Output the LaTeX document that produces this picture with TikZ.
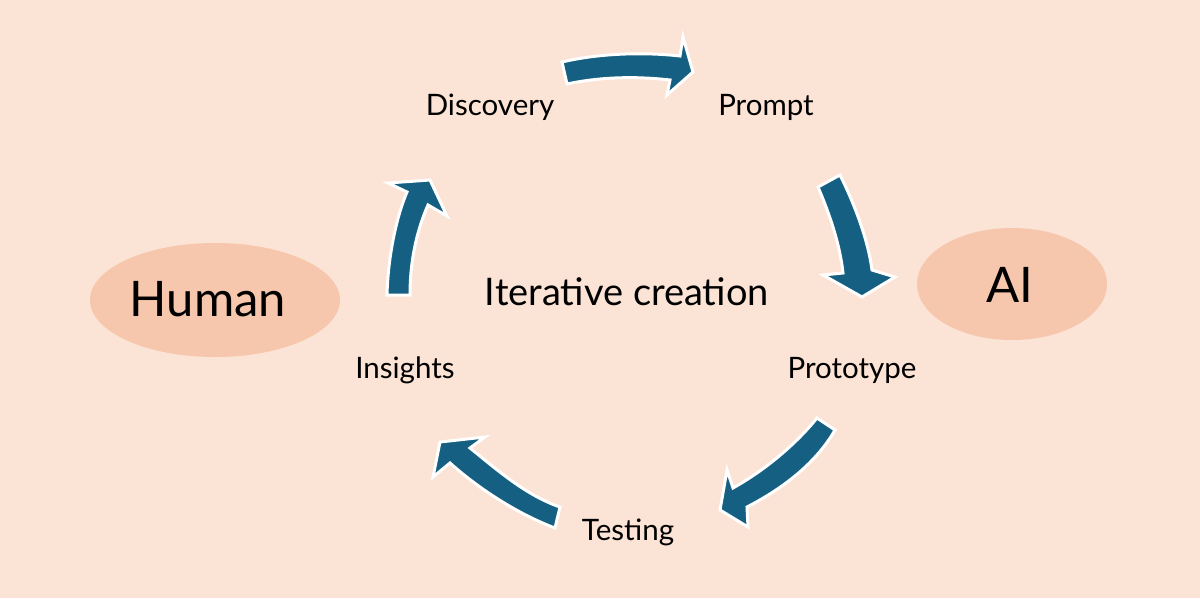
\documentclass[tikz,border=0pt]{standalone}
\usepackage{fontspec}
\setmainfont{Lato}
\usetikzlibrary{shapes.geometric}
\definecolor{bg}{HTML}{FBE3D6}
\definecolor{ellfill}{HTML}{F6C6AD}
\definecolor{arrblue}{HTML}{156082}
\begin{document}
\begin{tikzpicture}[x=1pt,y=-1pt,
  lbl/.style={font=\fontsize{29.5}{34}\selectfont, text=black, inner sep=0pt, anchor=base},
  bigtxt/.style={font=\fontsize{49}{56}\selectfont, text=black, inner sep=0pt, anchor=base},
  actor/.style={ellipse, fill=ellfill, inner sep=0pt},
  blockarrow/.style={fill=arrblue, draw=white, line width=3pt, line join=miter}]
\fill[bg] (0,0) rectangle (1200,598);
\useasboundingbox (0,0) rectangle (1200,598);
% actors
\node[actor, minimum width=250pt, minimum height=114pt] (human) at (215,300) {};
\node[bigtxt] (humantxt) at (208,316) {Human};
\node[actor, minimum width=190pt, minimum height=112pt] (ai) at (1012,284) {};
\node[bigtxt] (aitxt) at (1010,302) {AI};
% labels
\node[lbl] (disc) at (490,115) {Discovery};
\node[lbl] (prompt) at (766,115) {Prompt};
\node[lbl] (proto) at (852,378) {Prototype};
\node[lbl] (test) at (628,540) {Testing};
\node[lbl] (ins) at (405,378) {Insights};
\node[font=\fontsize{38}{44}\selectfont, inner sep=0pt, anchor=base] (center) at (627,305) {Iterative creation};
% block arrows
\path[blockarrow] (562,62) .. controls (600,53) and (645,52) .. (680,56) -- (683,37) -- (693,72) -- (667,95) -- (670,80) .. controls (635,76) and (600,77) .. (567,84) -- cycle;
\path[blockarrow] (818,187) -- (840,175) .. controls (855,205) and (868,240) .. (872,270) -- (895,277) -- (862,297) -- (823,275) -- (843,273) .. controls (840,245) and (830,215) .. (818,187) -- cycle;
\path[blockarrow] (817,418) -- (835,430) .. controls (815,465) and (780,490) .. (747,507) -- (748,527) -- (720,510) -- (727,470) -- (733,488) .. controls (765,470) and (795,445) .. (817,418) -- cycle;
\path[blockarrow] (560,507) -- (555,528) .. controls (520,515) and (480,490) .. (450,463) -- (433,477) -- (440,442) -- (485,437) -- (470,448) .. controls (495,468) and (525,495) .. (560,507) -- cycle;
\path[blockarrow] (387,295) -- (410,295) .. controls (410,260) and (417,230) .. (428,205) -- (447,216) -- (430,180) -- (388,183) -- (407,192) .. controls (397,215) and (388,255) .. (387,295) -- cycle;
\end{tikzpicture}
\end{document}
